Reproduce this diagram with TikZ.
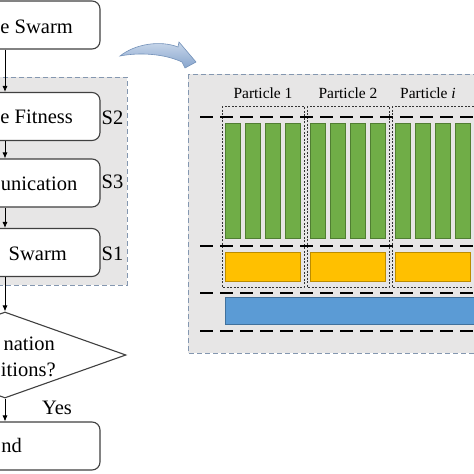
\documentclass[tikz,border=0pt]{standalone}
\usepackage{fontspec}
\setmainfont{Liberation Serif}
\usetikzlibrary{shapes.geometric,arrows.meta}
\definecolor{panelgray}{HTML}{E7E6E6}
\definecolor{panelline}{HTML}{8497B0}
\definecolor{boxedge}{HTML}{404040}
\definecolor{barGreen}{HTML}{70AD47}
\definecolor{barGreenD}{HTML}{507E32}
\definecolor{barYellow}{HTML}{FFC000}
\definecolor{barYellowD}{HTML}{BC8C00}
\definecolor{barBlue}{HTML}{5B9BD5}
\definecolor{barBlueD}{HTML}{41719C}
\definecolor{arrLight}{RGB}{205,218,236}
\definecolor{arrDark}{RGB}{135,165,205}
\definecolor{arrEdge}{RGB}{115,145,185}
\begin{document}
\begin{tikzpicture}[x=1pt,y=-1pt,
  flowbox/.style={draw=boxedge, line width=1.1pt, fill=white, rounded corners=8pt,
    minimum width=190pt, minimum height=48pt, inner sep=0pt},
  lbl/.style={inner sep=0pt, font=\fontsize{20.5}{24}\selectfont},
  ftxt/.style={inner sep=0pt, anchor=base east, font=\fontsize{20.5}{24}\selectfont},
  ftxtw/.style={inner sep=0pt, anchor=base west, font=\fontsize{20.5}{24}\selectfont},
  plbl/.style={inner sep=0pt, font=\fontsize{15.5}{18}\selectfont},
  arr/.style={-{Latex[length=6pt,width=5pt]}, line width=0.8pt},
  panel/.style={draw=panelline, fill=panelgray, dash pattern=on 5pt off 3pt, line width=1pt},
  pbox/.style={draw=black!80, dash pattern=on 2pt off 1.5pt, line width=0.9pt},
  sepline/.style={line width=2pt, dash pattern=on 13pt off 7pt},
  gbar/.style={fill=barGreen, draw=barGreenD, line width=0.5pt},
  ybar/.style={fill=barYellow, draw=barYellowD, line width=0.5pt},
  bbar/.style={fill=barBlue, draw=barBlueD, line width=0.5pt}]
\useasboundingbox (0,0) rectangle (474,474);
\clip (0,0) rectangle (474,474);

% ---------- left flowchart ----------
\draw[panel] (-50,77) rectangle (127,285);
\node[flowbox] (b1) at (5,25) {};
\node[flowbox] (b2) at (5,116.5) {};
\node[flowbox] (b3) at (5,183) {};
\node[flowbox] (b4) at (5,252.5) {};
\node[draw=boxedge, line width=1.1pt, fill=white, shape=diamond, inner sep=0pt,
      minimum width=242pt, minimum height=86pt] (dia) at (5,355) {};
\node[flowbox] (b5) at (5,446) {};

\node[ftxt] (t1) at (73,33.5) {e Swarm};
\node[ftxt] (t2) at (73,123.5) {e Fitness};
\node[ftxtw] (t3) at (0.8,190.5) {unication};
\node[ftxt] (t4) at (67,260) {Swarm};
\node[ftxt] (t5a) at (55,350) {nation};
\node[ftxtw] (t5b) at (0.8,376) {itions?};
\node[ftxt] (t6) at (22,452) {nd};

\node[lbl, anchor=base] (s2) at (112.5,124) {S2};
\node[lbl, anchor=base] (s3) at (112.5,188) {S3};
\node[lbl, anchor=base] (s1) at (112.5,260) {S1};

\draw[arr] (b1) -- (b2);
\draw[arr] (b2) -- (b3);
\draw[arr] (b3) -- (b4);
\draw[arr] (b4) -- (dia.north);
\draw[arr] (dia.south) -- (b5);
\node[lbl, anchor=base] (yes) at (57,414) {Yes};

% ---------- curved block arrow ----------
\draw[arrEdge, line width=0.6pt, top color=arrLight, bottom color=arrDark]
  (120,56) .. controls (135,44) and (160,40) .. (178,47) -- (179,42) -- (196,62)
  -- (185,68) -- (182,62) .. controls (165,54) and (140,52) .. (120,56) -- cycle;

% ---------- right panel ----------
\draw[panel] (188,74) rectangle (490,353);
\node[plbl] (l1) at (263,93) {Particle 1};
\node[plbl] (l2) at (348,93) {Particle 2};
\node[plbl] (l3) at (428,93) {Particle \textit{i}};

\foreach \px in {225,310,395}{
  \foreach \k in {0,1,2,3}{
    \draw[gbar] (\px+20*\k,123) rectangle ++(15,115);
  }
  \draw[ybar] (\px,252) rectangle ++(75,29);
  \draw[pbox] (\px-3,106) rectangle ++(82,181);
}
\draw[bbar] (225,297) rectangle (490,324);

\foreach \yy in {117,246,293,331}{
  \draw[sepline] (200,\yy) -- (480,\yy);
}
\end{tikzpicture}
\end{document}
